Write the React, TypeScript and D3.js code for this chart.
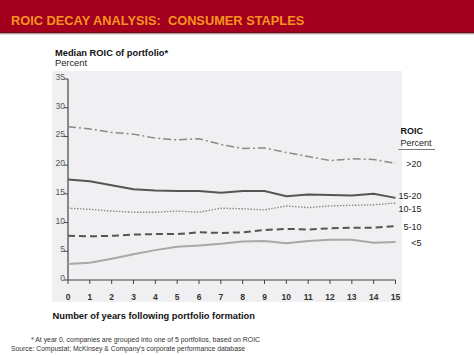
import React from "react";
import * as d3 from "d3";

const years = d3.range(0, 16);
const yTicks = [0, 5, 10, 15, 20, 25, 30, 35];
const seriesNames = [">20", "15-20", "10-15", "5-10", "<5"];
const roicOver20 = [26.7, 26.3, 25.7, 25.4, 24.7, 24.4, 24.6, 23.6, 22.9, 23.0, 22.2, 21.5, 20.8, 21.1, 21.0, 20.3];
const roic15to20 = [17.5, 17.2, 16.5, 15.8, 15.6, 15.5, 15.5, 15.2, 15.5, 15.5, 14.6, 14.9, 14.8, 14.7, 15.0, 14.3];
const roic10to15 = [12.5, 12.3, 12.0, 11.8, 11.8, 12.0, 11.8, 12.5, 12.4, 12.2, 12.9, 12.6, 12.9, 13.0, 13.1, 13.4];
const roic5to10 = [7.7, 7.6, 7.7, 7.9, 8.0, 8.0, 8.3, 8.2, 8.3, 8.7, 8.9, 8.8, 9.0, 9.1, 9.1, 9.4];
const roicUnder5 = [2.8, 3.0, 3.7, 4.5, 5.2, 5.8, 6.0, 6.3, 6.7, 6.8, 6.4, 6.8, 7.0, 7.0, 6.5, 6.6];

const seriesValues = [roicOver20, roic15to20, roic10to15, roic5to10, roicUnder5];
const styles = [
  { stroke: "#8a8a8a", width: 1.5, dash: "8,3,2,3", labelY: 164 },
  { stroke: "#555555", width: 2, dash: "", labelY: 196 },
  { stroke: "#8a8a8a", width: 1.4, dash: "1.5,1.5", labelY: 208.5 },
  { stroke: "#555555", width: 2, dash: "7,4", labelY: 226.5 },
  { stroke: "#a8a8a8", width: 2, dash: "", labelY: 243 },
];

export default function App() {
  const W = 474, H = 355;
  const x = d3.scaleLinear().domain([0, 15]).range([68, 395.5]);
  const y = d3.scaleLinear().domain([0, 35]).range([280, 79]);
  const line = d3
    .line<number>()
    .x((_, i) => x(years[i]))
    .y((d) => y(d))
    .curve(d3.curveLinear);
  const font = "'Liberation Sans', Arial, sans-serif";
  const narrow = "'Liberation Sans Narrow', 'Liberation Sans', Arial, sans-serif";

  return (
    <svg width={W} height={H} style={{ position: "absolute", left: 0, top: 0, background: "#fff" }} fontFamily={font}>
      {/* header */}
      <rect x={0} y={0} width={W} height={32} fill="#a3001f" />
      <rect x={0} y={32} width={W} height={1.5} fill="#6e0d1a" />
      <rect x={0} y={33.5} width={W} height={1} fill="#b9b9b9" />
      <text x={11} y={24.5} fill="#f7941d" fontSize={12.8} fontWeight="bold">
        ROIC DECAY ANALYSIS:{"\u00a0\u00a0"}CONSUMER STAPLES
      </text>

      {/* panel */}
      <rect x={52} y={71} width={350} height={231} fill="#f0f0f2" />

      {/* headings */}
      <text x={55} y={55.5} fontSize={9.3} fontWeight="bold" fill="#111">Median ROIC of portfolio*</text>
      <text x={55} y={66} fontSize={9.3} fill="#222">Percent</text>

      {/* y axis */}
      <line x1={x(0)} x2={x(0)} y1={y(35)} y2={y(0)} stroke="#444" strokeWidth={1.2} />
      {yTicks.map((t) => (
        <g key={t}>
          <line x1={x(0) - 4} x2={x(0)} y1={y(t)} y2={y(t)} stroke="#444" strokeWidth={1} />
          <text x={x(0) - 3} y={y(t) + 1} fontSize={8.5} fill="#555" textAnchor="end" fontFamily={narrow}>
            {t}
          </text>
        </g>
      ))}

      {/* x axis */}
      <line x1={x(0)} x2={x(15)} y1={y(0)} y2={y(0)} stroke="#444" strokeWidth={1.2} />
      {years.map((t) => (
        <g key={t}>
          <line x1={x(t)} x2={x(t)} y1={y(0)} y2={y(0) + 4} stroke="#444" strokeWidth={1} />
          <text x={x(t)} y={300} fontSize={8.5} fill="#333" textAnchor="middle" fontWeight="bold" fontFamily={narrow}>
            {t}
          </text>
        </g>
      ))}

      {/* lines */}
      {seriesValues.map((vals, i) => (
        <path
          key={seriesNames[i]}
          d={line(vals) || ""}
          fill="none"
          stroke={styles[i].stroke}
          strokeWidth={styles[i].width}
          strokeDasharray={styles[i].dash || undefined}
        />
      ))}

      {/* legend */}
      <text x={400.5} y={134} fontSize={9} fontWeight="bold" fill="#111">ROIC</text>
      <text x={400.5} y={145.5} fontSize={9} fill="#222">Percent</text>
      <line x1={398.5} x2={435} y1={149.5} y2={149.5} stroke="#555" strokeWidth={0.8} />
      {seriesNames.map((n, i) => (
        <text key={n} x={421.5} y={styles[i].labelY + 3.2} fontSize={9} fill="#222" textAnchor="end">
          {n}
        </text>
      ))}

      {/* x title */}
      <text x={52.5} y={319} fontSize={9.3} fontWeight="bold" fill="#111">
        Number of years following portfolio formation
      </text>

      {/* footnotes */}
      <text x={31} y={342.3} fontSize={6.9} fill="#333">
        * At year 0, companies are grouped into one of 5 portfolios, based on ROIC
      </text>
      <text x={11} y={351.3} fontSize={6.8} fill="#333">
        Source: Compustat; McKinsey &amp; Company’s corporate performance database
      </text>
    </svg>
  );
}
